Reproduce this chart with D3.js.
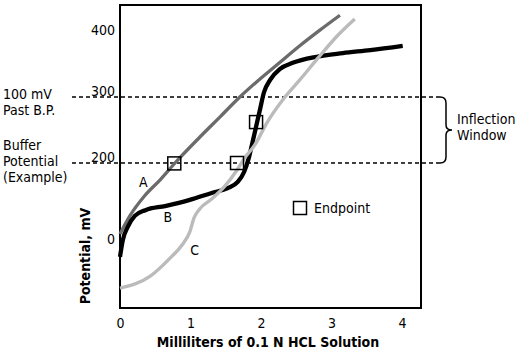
<!DOCTYPE html>
<html>
<head>
<meta charset="utf-8">
<script src="https://cdn.jsdelivr.net/npm/d3@7"></script>
<style>
  body { margin: 0; background: #fff; }
  text { font-family: "DejaVu Sans", sans-serif; font-stretch: condensed; fill: #000; }
</style>
</head>
<body>
<div id="chart"></div>
<script>
// Curve data (ml of 0.1 N HCl, potential in mV)
const curveAx = [0, 0.14, 0.35, 0.57, 0.78, 1.13, 1.42, 1.70, 1.99, 2.27, 2.55, 2.84, 3.12];
const curveAy = [27, 71, 120, 159, 200, 239, 270, 300, 330, 357, 384, 410, 434];

const curveBx = [0, 0.04, 0.11, 0.21, 0.36, 0.64, 0.99, 1.30, 1.53, 1.67, 1.76, 1.82, 1.87, 1.93, 1.99, 2.04, 2.13, 2.27, 2.45, 2.79, 3.16, 3.55, 4.01];
const curveBy = [-29, 12, 44, 71, 85, 95, 110, 127, 139, 154, 178, 205, 227, 255, 283, 307, 328, 346, 356, 366, 372, 377, 384];

const curveCx = [0, 0.43, 0.71, 0.88, 0.99, 1.05, 1.13, 1.30, 1.49, 1.66, 1.77, 1.91, 2.09, 2.34, 2.55, 2.81, 3.08, 3.33];
const curveCy = [-105, -76, -32, 0, 32, 66, 88, 112, 144, 183, 208, 227, 262, 300, 328, 364, 400, 428];

// endpoints marked with squares
const endX = [0.77, 1.66, 1.93];
const endY = [199, 200, 262];

const xTicks = [0, 1, 2, 3, 4];
const yTicks = [0, 200, 300, 400];
const bufferPotential = 200;
const pastBP = 300;

const width = 521, height = 353;
const plotLeft = 120, plotRight = 421, plotTop = 5, plotBottom = 308;

const svg = d3.select("#chart").append("svg")
    .attr("width", width)
    .attr("height", height);

svg.append("rect").attr("width", width).attr("height", height).attr("fill", "#fff");

let x = d3.scaleLinear().domain([0, 4]).range([plotLeft, plotLeft + 4 * 70.5]);
// schematic axis: uneven spacing between labelled values
let y = d3.scaleLinear().domain([0, 200, 300, 400]).range([245, 163, 97, 36]);

// dashed reference lines
[pastBP, bufferPotential].forEach(v => {
    svg.append("line")
        .attr("x1", 72).attr("x2", 440)
        .attr("y1", y(v)).attr("y2", y(v))
        .attr("stroke", "#000")
        .attr("stroke-width", 1.5)
        .attr("stroke-dasharray", "4,3");
});

// brace for inflection window
let y3 = y(pastBP), y2 = y(bufferPotential), ym = (y3 + y2) / 2;
svg.append("path")
    .attr("d", `M440,${y3} Q446,${y3} 446,${y3 + 6} L446,${ym - 5} Q446,${ym} 452,${ym} Q446,${ym} 446,${ym + 5} L446,${y2 - 6} Q446,${y2} 440,${y2}`)
    .attr("fill", "none")
    .attr("stroke", "#000")
    .attr("stroke-width", 1.5);

// frame
svg.append("rect")
    .attr("x", plotLeft).attr("y", plotTop)
    .attr("width", plotRight - plotLeft).attr("height", plotBottom - plotTop)
    .attr("fill", "none")
    .attr("stroke", "#000")
    .attr("stroke-width", 2);

// curves
let line = d3.line()
    .x(d => x(d[0]))
    .y(d => y(d[1]))
    .curve(d3.curveMonotoneX);

let curves = [
    {xs: curveAx, ys: curveAy, color: "#6b6b6b", w: 3.3},
    {xs: curveBx, ys: curveBy, color: "#000000", w: 4.3},
    {xs: curveCx, ys: curveCy, color: "#bbbbbb", w: 3.4}
];

curves.forEach(c => {
    svg.append("path")
        .datum(c.xs.map((v, i) => [v, c.ys[i]]))
        .attr("d", line)
        .attr("fill", "none")
        .attr("stroke", c.color)
        .attr("stroke-width", c.w);
});

// endpoint squares
svg.selectAll(".endpoint")
    .data(endX.map((v, i) => [v, endY[i]]))
    .enter()
    .append("rect")
    .attr("class", "endpoint")
    .attr("x", d => x(d[0]) - 6.5)
    .attr("y", d => y(d[1]) - 6.5)
    .attr("width", 13).attr("height", 13)
    .attr("fill", "none")
    .attr("stroke", "#000")
    .attr("stroke-width", 1.5);

// curve letters
let letters = [["A", 0.33, 154], ["B", 0.68, 67], ["C", 1.06, -13]];
svg.selectAll(".letter")
    .data(letters)
    .enter()
    .append("text")
    .attr("x", d => x(d[1]))
    .attr("y", d => y(d[2]))
    .attr("dy", "0.35em")
    .attr("text-anchor", "middle")
    .attr("font-size", 14)
    .text(d => d[0]);

// axes
let xAxis = svg.append("g")
    .attr("transform", "translate(0," + plotBottom + ")")
    .call(d3.axisBottom(x).tickValues(xTicks).tickSize(0).tickPadding(10).tickFormat(d3.format("d")));
xAxis.select(".domain").remove();
xAxis.selectAll("text").attr("font-size", 14).attr("font-family", null);

let yAxis = svg.append("g")
    .attr("transform", "translate(" + plotLeft + ",0)")
    .call(d3.axisLeft(y).tickValues(yTicks).tickSize(0).tickPadding(5).tickFormat(d3.format("d")));
yAxis.select(".domain").remove();
yAxis.selectAll("text").attr("font-size", 14).attr("font-family", null).attr("dy", -2);

// axis titles
svg.append("text")
    .attr("x", 268).attr("y", 347)
    .attr("text-anchor", "middle")
    .attr("font-size", 14)
    .attr("font-weight", "bold")
    .text("Milliliters of 0.1 N HCL Solution");

svg.append("text")
    .attr("transform", "translate(90,256) rotate(-90)")
    .attr("text-anchor", "middle")
    .attr("font-size", 14)
    .attr("font-weight", "bold")
    .text("Potential, mV");

// left annotations
let leftNotes = [["100 mV", 99], ["Past B.P.", 115], ["Buffer", 150], ["Potential", 166], ["(Example)", 182]];
svg.selectAll(".note")
    .data(leftNotes)
    .enter()
    .append("text")
    .attr("x", 3)
    .attr("y", d => d[1])
    .attr("font-size", 14)
    .text(d => d[0]);

// right annotation
svg.append("text").attr("x", 457).attr("y", 124).attr("font-size", 14).text("Inflection");
svg.append("text").attr("x", 457).attr("y", 140).attr("font-size", 14).text("Window");

// legend
svg.append("rect")
    .attr("x", 293.5).attr("y", 201.5)
    .attr("width", 13).attr("height", 13)
    .attr("fill", "none")
    .attr("stroke", "#000")
    .attr("stroke-width", 1.5);
svg.append("text").attr("x", 314).attr("y", 213).attr("font-size", 14).text("Endpoint");
</script>
</body>
</html>
